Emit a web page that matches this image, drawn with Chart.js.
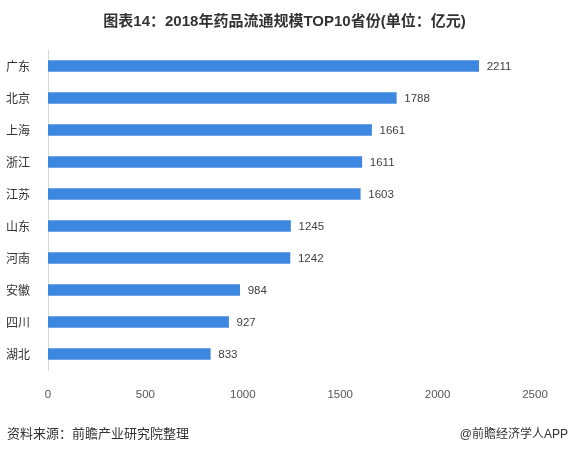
<!DOCTYPE html>
<html lang="zh">
<head>
    <meta charset="UTF-8">
    <title>2018年药品流通规模TOP10省份</title>
    <script src="https://cdn.jsdelivr.net/npm/chart.js"></script>
    <style>
        body {
            margin: 0;
            background: #fff;
            font-family: "Liberation Sans", "Noto Sans CJK SC", sans-serif;
        }
        .wrap {
            position: relative;
            width: 569px;
            height: 452px;
            overflow: hidden;
        }
        canvas {
            position: absolute;
            left: 0;
            top: 0;
        }
        .title {
            position: absolute;
            top: 9px;
            left: 0;
            width: 569px;
            text-align: center;
            font-size: 15px;
            font-weight: bold;
            color: #333;
        }
        .source {
            position: absolute;
            left: 7px;
            top: 423px;
            font-size: 13px;
            color: #333;
        }
        .brand {
            position: absolute;
            right: 1px;
            top: 424px;
            font-size: 12px;
            color: #333;
        }
    </style>
</head>
<body>
    <div class="wrap">
        <canvas id="chart" width="569" height="452"></canvas>
        <div class="title">图表14：2018年药品流通规模TOP10省份(单位：亿元)</div>
        <div class="source">资料来源：前瞻产业研究院整理</div>
        <div class="brand">@前瞻经济学人APP</div>
    </div>
    <script>
        const provinces = ['广东', '北京', '上海', '浙江', '江苏', '山东', '河南', '安徽', '四川', '湖北'];
        const scale = [2211, 1788, 1661, 1611, 1603, 1245, 1242, 984, 927, 833];
        const xTicks = [0, 500, 1000, 1500, 2000, 2500];

        // value labels at bar ends
        const valueLabels = {
            id: 'valueLabels',
            afterDatasetsDraw(chart) {
                const ctx = chart.ctx;
                const meta = chart.getDatasetMeta(0);
                ctx.save();
                ctx.font = '11.5px "Liberation Sans", sans-serif';
                ctx.fillStyle = '#404040';
                ctx.textBaseline = 'middle';
                meta.data.forEach((bar, i) => {
                    ctx.fillText(scale[i], bar.x + 8, bar.y + 1);
                });
                ctx.restore();
            }
        };

        new Chart(document.getElementById('chart'), {
            type: 'bar',
            data: {
                labels: provinces,
                datasets: [{
                    data: scale,
                    backgroundColor: '#3d87e0',
                    barThickness: 11
                }]
            },
            options: {
                indexAxis: 'y',
                responsive: false,
                animation: false,
                layout: { padding: { top: 50, right: 34, left: 0, bottom: 0 } },
                plugins: {
                    legend: { display: false },
                    tooltip: { enabled: false }
                },
                scales: {
                    x: {
                        min: 0,
                        max: 2500,
                        afterBuildTicks(axis) {
                            axis.ticks = xTicks.map(v => ({ value: v }));
                        },
                        afterFit(axis) {
                            axis.height = 82;
                        },
                        grid: { display: false },
                        border: { display: false },
                        ticks: {
                            padding: 10,
                            color: '#555',
                            callback: v => String(v),
                            font: { size: 11.5, family: '"Liberation Sans", sans-serif' }
                        }
                    },
                    y: {
                        afterFit(axis) {
                            axis.width = 48;
                        },
                        grid: { display: false },
                        border: { display: true, color: '#d9d9d9', width: 1 },
                        ticks: {
                            padding: 10,
                            color: '#333',
                            font: { size: 12, family: '"Noto Sans CJK SC", sans-serif' }
                        }
                    }
                }
            },
            plugins: [valueLabels]
        });
    </script>
</body>
</html>
